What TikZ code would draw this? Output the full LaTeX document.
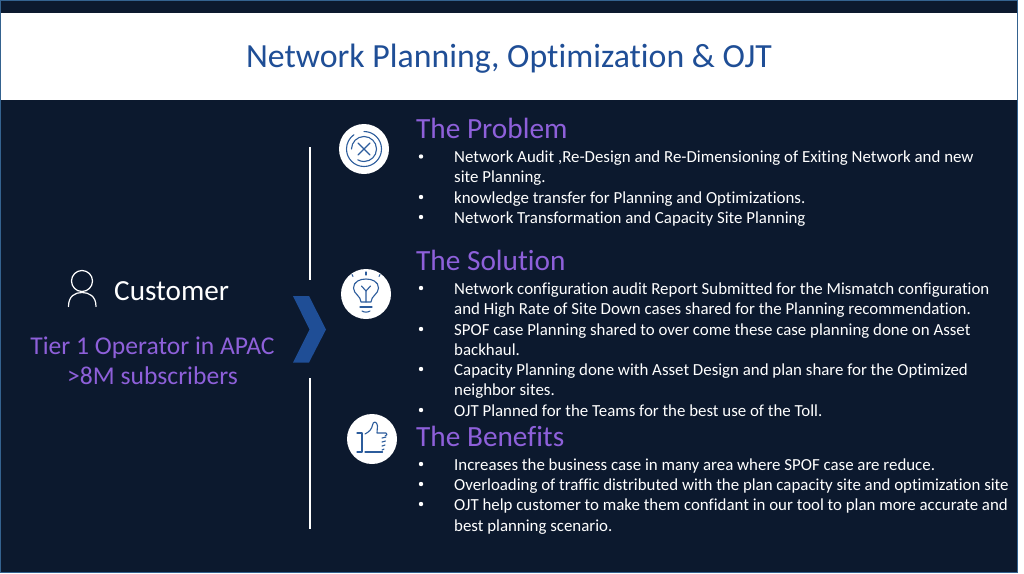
\documentclass[tikz,border=0pt]{standalone}
\usepackage{fontspec}
\setmainfont[Ligatures={NoCommon}]{Carlito}
\usetikzlibrary{positioning,calc}
\definecolor{slidebg}{HTML}{0C192E}
\definecolor{slideblue}{HTML}{1F4E96}
\definecolor{iconblue}{HTML}{2C5C9C}
\definecolor{headpurple}{HTML}{8E60DA}
\definecolor{frameblue}{HTML}{34628F}
\tikzset{
    heading/.style={anchor=base west, inner sep=0pt, text=headpurple, font=\fontsize{29.3}{29.3}\selectfont},
    bodyline/.style={anchor=base west, inner sep=0pt, text=white, font=\fontsize{16.87}{16.87}\selectfont},
    bulletdot/.style={circle, fill=white, inner sep=0pt, minimum size=4.4pt},
    iconcircle/.style={circle, fill=white, inner sep=0pt, minimum size=50pt},
    iconline/.style={draw=iconblue, line width=1.1pt, line cap=round, line join=round},
    divider/.style={draw=white, line width=1.1pt}
}
\begin{document}
\begin{tikzpicture}[x=1pt, y=-1pt]
    \useasboundingbox (0,0) rectangle (1024,573);
    \fill[white] (0,0) rectangle (1024,573);

    % Slide background
    \draw[draw=frameblue, fill=slidebg, line width=1pt] (0.5,0.5) rectangle (1017.5,572.3);
    \fill[white] (1,13) rectangle (1017,100);
    \node[text=slideblue, font=\fontsize{33.8}{33.8}\selectfont] (title) at (509,59) {Network Planning, Optimization \& OJT};

    % Left side
    \node[anchor=base west, inner sep=0pt, text=white, font=\fontsize{29.2}{29.2}\selectfont] (customer) at (114,300.5) {Customer};
    \node[align=center, inner sep=0pt, text=headpurple, font=\fontsize{25.6}{30.5}\selectfont] (operator) at (152.5,361) {Tier 1 Operator in APAC\\ >8M subscribers};
    \coordinate (personhead) at (82,281);
    \draw[white, line width=1.2pt] (personhead) circle (10.5pt);
    \draw[white, line width=1.2pt, line cap=round] (68.5,306.5) .. controls (68.5,296) and (75,292.5) .. (82,292.5) .. controls (89,292.5) and (96,296) .. (96,306.5);

    % Chevron
    \fill[slideblue] (293,296) -- (309,296) -- (326,329.5) -- (309,362.5) -- (293,362.5) -- (309.5,329.5) -- cycle;

    % Divider
    \coordinate (topa) at (310,147);
    \coordinate (topb) at (310,280);
    \coordinate (bota) at (310,378);
    \coordinate (botb) at (310,529);
    \draw[divider] (topa) -- (topb);
    \draw[divider] (bota) -- (botb);

    % Problem icon
    \node[iconcircle] (problem) at (364,149) {};
    \draw[iconline] ($(problem)+(-12.5,0)$) arc[start angle=180, end angle=-120, radius=12.5pt];
    \draw[iconline] ($(problem)+(0,-17.5)$) arc[start angle=90, end angle=-235, radius=17.5pt];
    \draw[iconline] ($(problem)+(-6,-6)$) -- ($(problem)+(6,6)$);
    \draw[iconline] ($(problem)+(-6,6)$) -- ($(problem)+(6,-6)$);

    % Solution icon
    \node[iconcircle] (solution) at (366,294) {};
    \begin{scope}[shift={(solution)}]
        \draw[iconline] (-5,8) .. controls (-5,2) and (-12.5,0) .. (-12.5,-6) .. controls (-12.5,-12.5) and (-6,-15) .. (0,-15) .. controls (6,-15) and (12.5,-12.5) .. (12.5,-6) .. controls (12.5,0) and (5,2) .. (5,8) -- cycle;
        \draw[iconline] (0,8) -- (0,-3) -- (-4.5,-8);
        \draw[iconline] (0,-3) -- (4.5,-8);
        \draw[iconline] (-6,13) -- (6,13);
        \draw[iconline] (-4,17) .. controls (-2,18.5) and (2,18.5) .. (4,17);
        \draw[iconline] (0,-22) -- (0,-19);
        \draw[iconline] (-14,-19.5) -- (-13,-17.5);
        \draw[iconline] (14,-19.5) -- (13,-17.5);
    \end{scope}

    % Benefits icon
    \node[iconcircle] (benefits) at (372,439) {};
    \begin{scope}[shift={(benefits)}]
        \draw[iconline] (-15,-6) -- (-10,-6) -- (-10,13) -- (-15,13);
        \draw[iconline] (-7,-5) .. controls (-3,-7) and (0,-10) .. (0.5,-14) .. controls (1,-18) and (5,-18) .. (5.5,-13) .. controls (5.5,-11) and (5,-9) .. (5,-6) -- (14,-6) .. controls (15.5,-6) and (15.5,-3) .. (13,-3);
        \draw[iconline] (14,-2) -- (10,-1);
        \draw[iconline] (13.5,2) -- (10,3);
        \draw[iconline] (13,6) -- (10,7);
        \draw[iconline] (12,10) -- (10,11);
        \draw[iconline] (10.5,13) -- (-7,13);
    \end{scope}

    % Headings
    \node[heading] (problemhead) at (416,138) {The Problem};
    \node[heading] (solutionhead) at (416,270) {The Solution};
    \node[heading] (benefitshead) at (416,446) {The Benefits};

    % Bullets
    \foreach \y in {156.5,197,217,288,329,369,410,464,484,504}
        \node[bulletdot] at (421,\y) {};

    % Text lines
    \foreach \y/\line in {
        162/{Network Audit ,Re-Design and Re-Dimensioning of Exiting Network and new},
        182/{site Planning.},
        203/{knowledge transfer for Planning and Optimizations.},
        223/{Network Transformation and Capacity Site Planning},
        294/{Network configuration audit Report Submitted for the Mismatch configuration},
        314/{and High Rate of Site Down cases shared for the Planning recommendation.},
        335/{SPOF case Planning shared to over come these case planning done on Asset},
        355/{backhaul.},
        375/{Capacity Planning done with Asset Design and plan share for the Optimized},
        395/{neighbor sites.},
        416/{OJT Planned for the Teams for the best use of the Toll.},
        470/{Increases the business case in many area where SPOF case are reduce.},
        490/{Overloading of traffic distributed with the plan capacity site and optimization site},
        510/{OJT help customer to make them confidant in our tool to plan more accurate and},
        531/{best planning scenario.}}
        \node[bodyline] at (454,\y) {\line};
\end{tikzpicture}
\end{document}
